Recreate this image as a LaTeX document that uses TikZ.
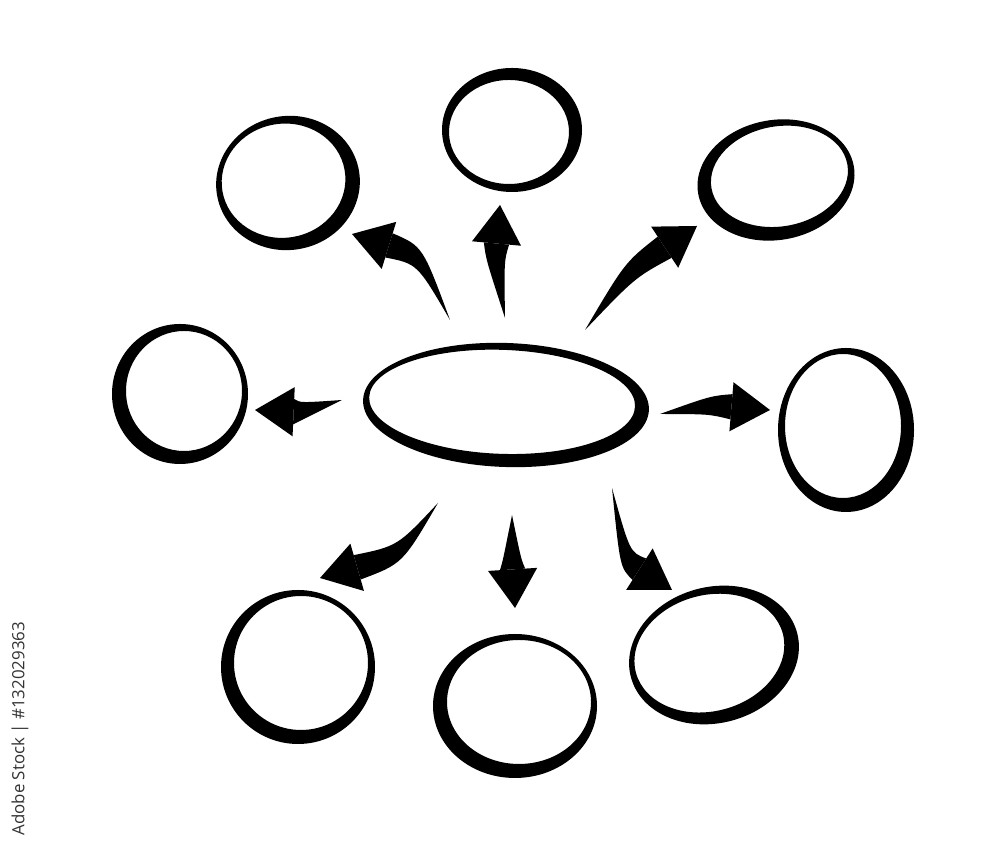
\documentclass[tikz,border=0pt]{standalone}
\usepackage{fontspec}
\newfontfamily\stockfont{Open Sans}
\usetikzlibrary{shapes.geometric,calc}

\tikzset{
  bubble/.style={ellipse, inner sep=0pt},
  brush/.style={fill=black, even odd rule},
}

\begin{document}
\begin{tikzpicture}[x=0.01cm, y=-0.01cm]
\useasboundingbox (0,0) rectangle (1000,862);

% centre and the eight bubbles round it, brush ring each
\foreach \n/\bx/\by/\rx/\ry/\rot/\dx/\dy in {c/506/405/143/62/-2/-4/-3,
    tl/288/183/72/67/10/-4/-3, tp/512/130/70/62/0/-3/2, tr/776/180/79/60/10/4/-3,
    lf/180/394/68/70/0/4/-3, rt/846/430/68/82/0/-3/-4, bl/298/667/77/77/0/3/-4,
    bm/515/706/82/72/0/4/-4, br/714/655/86/68/15/-4/-3} {
  \pgfmathsetmacro\irx{\rx-10}
  \pgfmathsetmacro\iry{\ry-10}
  \node[bubble, rotate=\rot, minimum width=\rx*0.02cm, minimum height=\ry*0.02cm] (\n) at (\bx,\by) {};
  \fill[brush, rotate around={\rot:(\bx,\by)}]
    (\bx,\by) ellipse [x radius=\rx, y radius=\ry]
    ($(\bx,\by)+(\dx,\dy)$) ellipse [x radius=\irx, y radius=\iry];
}

% arrow ends
\coordinate (t1) at (450,320); \coordinate (h1) at (352,234);
\coordinate (t2) at (505,318); \coordinate (h2) at (500,205);
\coordinate (t3) at (585,330); \coordinate (h3) at (697,226);
\coordinate (t4) at (342,400); \coordinate (h4) at (255,410);
\coordinate (t5) at (660,414); \coordinate (h5) at (770,410);
\coordinate (t6) at (438,503); \coordinate (h6) at (320,578);
\coordinate (t7) at (512,515); \coordinate (h7) at (515,608);
\coordinate (t8) at (612,488); \coordinate (h8) at (672,590);

% tapered arrows
\foreach \n/\cx/\cy in {1/420/255, 2/495/260, 3/630/270, 4/300/412,
                        5/710/405, 6/400/555, 7/512/560, 8/625/560} {
  \coordinate (k\n) at (\cx,\cy);
  \coordinate (b\n) at ($(h\n)!11pt!(k\n)$);
  \fill (t\n) .. controls ($(k\n)!2.6pt!90:(h\n)$) .. ($(b\n)!3.6pt!90:(h\n)$)
        -- ($(b\n)!3.6pt!-90:(h\n)$) .. controls ($(k\n)!2.6pt!-90:(h\n)$) .. (t\n) -- cycle;
  \fill (h\n) -- ($(b\n)!7pt!90:(h\n)$) -- ($(b\n)!7pt!-90:(h\n)$) -- cycle;
}

\node[rotate=90, anchor=west, text=black!80, font=\stockfont\fontsize{4.8}{6}\selectfont]
  (stock) at (20,848) {Adobe Stock | \#132029363};
\end{tikzpicture}
\end{document}
